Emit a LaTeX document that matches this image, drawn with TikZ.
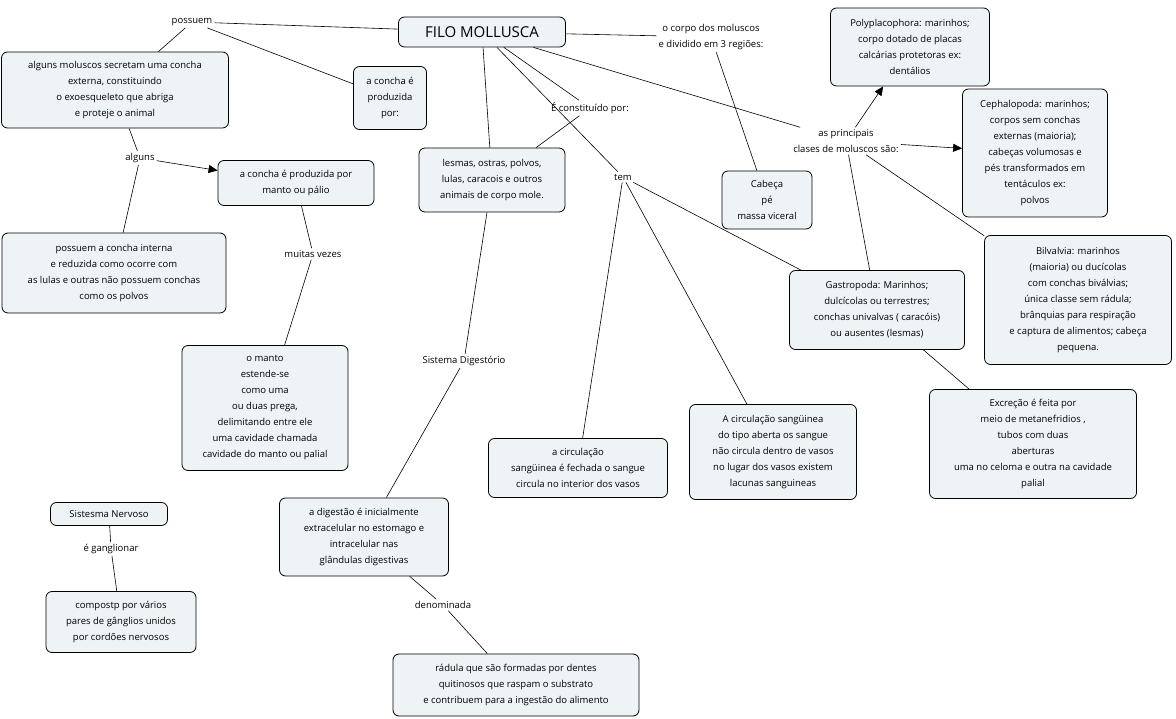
\documentclass[tikz,border=0pt]{standalone}
\usepackage{fontspec}
\setmainfont{Open Sans}
\usetikzlibrary{arrows.meta}
\begin{document}
\begin{tikzpicture}[x=1pt,y=-1pt,
  box/.style={draw=black,line width=0.8pt,rounded corners=6pt,fill=boxc,align=center,inner sep=2pt,font=\fontsize{9.5}{16}\selectfont},
  lab/.style={align=center,inner sep=2pt,font=\fontsize{9.5}{16}\selectfont},
  con/.style={line width=0.6pt},
  arr/.style={line width=0.6pt,-{Triangle[length=9pt,width=8pt]}}]
\definecolor{boxc}{HTML}{EEF3F6}
\useasboundingbox (0,0) rectangle (1176,719);
% boxes
\node[box,minimum width=167,minimum height=30,font=\fontsize{15}{18}\selectfont] (filo) at (482,32) {FILO MOLLUSCA};
\node[box,minimum width=227,minimum height=76] (alg) at (115,90) {alguns moluscos secretam uma concha\\externa, constituindo\\o exoesqueleto que abriga\\e proteje o animal};
\node[box,minimum width=73,minimum height=63] (cprod) at (390,98) {a concha é\\produzida\\por:};
\node[box,minimum width=159,minimum height=78] (poly) at (910,47) {Polyplacophora: marinhos;\\corpo dotado de placas\\calcárias protetoras ex:\\dentálios};
\node[box,minimum width=145,minimum height=128] (ceph) at (1035,153) {Cephalopoda: marinhos;\\corpos sem conchas\\externas (maioria);\\cabeças volumosas e\\pés transformados em\\tentáculos ex:\\polvos};
\node[box,minimum width=90,minimum height=58] (cab) at (767,200) {Cabeça\\pé\\massa viceral};
\node[box,minimum width=146,minimum height=64] (lesm) at (492,180) {lesmas, ostras, polvos,\\lulas, caracois e outros\\animais de corpo mole.};
\node[box,minimum width=156,minimum height=45] (manto) at (296,183) {a concha é produzida por\\manto ou pálio};
\node[box,minimum width=224,minimum height=80] (inter) at (114,273) {possuem a concha interna\\e reduzida como ocorre com\\as lulas e outras não possuem conchas\\como os polvos};
\node[box,minimum width=187,minimum height=129] (biv) at (1078,300) {Bilvalvia: marinhos\\(maioria) ou ducícolas\\com conchas biválvias;\\única classe sem rádula;\\brânquias para respiração\\e captura de alimentos; cabeça\\pequena.};
\node[box,minimum width=175,minimum height=79] (gast) at (877,310) {Gastropoda: Marinhos;\\dulcícolas ou terrestres;\\conchas univalvas ( caracóis)\\ou ausentes (lesmas)};
\node[box,minimum width=166,minimum height=125] (om) at (265,408) {o manto\\estende-se\\como uma\\ou duas prega,\\delimitando entre ele\\uma cavidade chamada\\cavidade do manto ou palial};
\node[box,minimum width=207,minimum height=109] (exc) at (1033,444) {Excreção é feita por\\meio de metanefridios ,\\tubos com duas\\aberturas\\uma no celoma e outra na cavidade\\palial};
\node[box,minimum width=167,minimum height=95] (cab2) at (773,452) {A circulação sangüinea\\do tipo aberta os sangue\\não circula dentro de vasos\\no lugar dos vasos existem\\lacunas sanguineas};
\node[box,minimum width=179,minimum height=59] (cfech) at (578,468) {a circulação\\sangüinea é fechada o sangue\\circula no interior dos vasos};
\node[box,minimum width=117,minimum height=23] (sn) at (109,514) {Sistesma Nervoso};
\node[box,minimum width=169,minimum height=78] (dig) at (364,537) {a digestão é inicialmente\\extracelular no estomago e\\intracelular nas\\glândulas digestivas};
\node[box,minimum width=150,minimum height=61] (comp) at (121,622) {compostp por vários\\pares de gânglios unidos\\por cordões nervosos};
\node[box,minimum width=246,minimum height=62] (rad) at (516,685) {rádula que são formadas por dentes\\quitinosos que raspam o substrato\\e contribuem para a ingestão do alimento};
% labels
\node[lab] (poss) at (192,22) {possuem};
\node[lab] (corpo) at (711,37) {o corpo dos moluscos\\e dividido em 3 regiões:};
\node[lab] (princ) at (846,141) {as principais\\clases de moluscos são:};
\node[lab] (const) at (590,108) {É constituído por:};
\node[lab] (tem) at (623,177) {tem};
\node[lab] (alguns) at (140,158) {alguns};
\node[lab] (muitas) at (313,254) {muitas vezes};
\node[lab] (sdig) at (464,361) {Sistema Digestório};
\node[lab] (gang) at (111,549) {é ganglionar};
\node[lab] (denom) at (443,605) {denominada};
% connectors
\draw[con] (filo) -- (poss);
\draw[con] (poss) -- (alg);
\draw[con] (poss) -- (cprod);
\draw[con] (filo) -- (corpo);
\draw[con] (corpo) -- (cab);
\draw[con] (filo) -- (lesm);
\draw[con] (filo) -- (const);
\draw[con] (const) -- (lesm);
\draw[con] (filo) -- (tem);
\draw[con] (tem) -- (cfech);
\draw[con] (tem) -- (cab2);
\draw[con] (tem) -- (gast);
\draw[con] (filo) -- (princ);
\draw[arr] (princ) -- (poly);
\draw[arr] (princ) -- (ceph);
\draw[con] (princ) -- (gast);
\draw[con] (princ) -- (biv);
\draw[con] (gast) -- (exc);
\draw[con] (alg) -- (alguns);
\draw[arr] (alguns) -- (manto);
\draw[con] (alguns) -- (inter);
\draw[con] (manto) -- (muitas);
\draw[con] (muitas) -- (om);
\draw[con] (lesm) -- (sdig);
\draw[con] (sdig) -- (dig);
\draw[con] (dig) -- (denom);
\draw[con] (denom) -- (rad);
\draw[con] (sn) -- (gang);
\draw[con] (gang) -- (comp);
\end{tikzpicture}
\end{document}
